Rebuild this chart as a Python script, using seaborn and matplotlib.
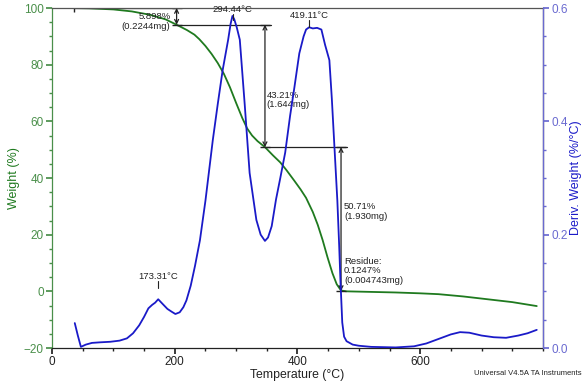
import seaborn as sns
import matplotlib.pyplot as plt
from matplotlib.ticker import MultipleLocator, FixedLocator

# --- TGA data (weight, left axis) ---
temp_weight = [35, 60, 100, 130, 160, 185, 203, 220, 232, 240, 250, 260, 270, 280,
               290, 300, 310, 318, 326, 335, 347, 360, 372, 382, 395, 405, 414, 425,
               433, 441, 449, 457, 464, 471, 480, 520, 560, 600, 630, 670, 710, 750, 790]
weight_pct = [100.0, 99.9, 99.5, 98.8, 97.6, 96.0, 94.1, 92.2, 90.6, 89.0, 86.6, 83.8,
              80.6, 76.8, 72.0, 66.5, 61.2, 57.5, 55.0, 53.0, 50.9, 48.0, 45.5, 42.8,
              39.0, 36.0, 33.0, 28.0, 23.5, 18.1, 12.0, 6.4, 2.5, 0.3, 0.0, -0.2,
              -0.4, -0.7, -1.0, -1.8, -2.8, -3.8, -5.2]

# --- DTG data (derivative weight, right axis) ---
temp_deriv = [37, 42, 47, 55, 65, 78, 95, 110, 122, 132, 142, 150, 157, 163, 168, 173,
              180, 188, 195, 201, 208, 214, 219, 226, 233, 241, 250, 262, 270, 278, 287,
              291, 294, 297, 301, 306, 314, 322, 333, 340, 347, 352, 358, 365, 372, 380,
              388, 395, 403, 410, 414, 419, 425, 432, 439, 445, 452, 456, 460, 465, 468,
              470, 473, 476, 480, 490, 500, 520, 560, 590, 610, 630, 650, 665, 680, 700,
              720, 740, 760, 775, 790]
deriv_weight = [0.044, 0.022, 0.002, 0.006, 0.009, 0.010, 0.011, 0.013, 0.017, 0.026,
                0.040, 0.055, 0.070, 0.076, 0.080, 0.086, 0.078, 0.069, 0.064, 0.060,
                0.063, 0.072, 0.084, 0.110, 0.145, 0.190, 0.260, 0.367, 0.430, 0.490,
                0.544, 0.572, 0.586, 0.580, 0.566, 0.544, 0.430, 0.309, 0.226, 0.200,
                0.189, 0.195, 0.215, 0.262, 0.300, 0.345, 0.410, 0.460, 0.520, 0.550,
                0.562, 0.566, 0.564, 0.565, 0.562, 0.535, 0.508, 0.440, 0.360, 0.260,
                0.180, 0.120, 0.045, 0.020, 0.012, 0.006, 0.004, 0.002, 0.001, 0.003,
                0.008, 0.016, 0.024, 0.028, 0.027, 0.022, 0.019, 0.018, 0.022, 0.026,
                0.032]

# --- step annotations: (temperature, weight before, weight after, label) ---
step_temps = [203, 347, 471]
step_top = [100.0, 94.1, 50.9]
step_bottom = [94.1, 50.9, 0.12]
step_labels = ["5.898%\n(0.2244mg)", "43.21%\n(1.644mg)", "50.71%\n(1.930mg)"]
residue_label = "Residue:\n0.1247%\n(0.004743mg)"

peak_temps = [173.31, 294.44, 419.11]
peak_labels = ["173.31°C", "294.44°C", "419.11°C"]

GREEN = '#1f7a1f'
BLUE = '#1a1ac8'
AXIS_GREEN = '#4a8f4a'
AXIS_BLUE = '#6a6ad0'
INK = '#222222'

sns.set_theme(style="white")
plt.rcParams['font.family'] = ['Liberation Sans', 'DejaVu Sans']

fig = plt.figure(figsize=(5.85, 3.82), dpi=100)
ax = fig.add_axes([0.089, 0.089, 0.839, 0.890])
ax2 = ax.twinx()

sns.lineplot(x=temp_weight, y=weight_pct, ax=ax, color=GREEN, lw=1.3)
sns.lineplot(x=temp_deriv, y=deriv_weight, ax=ax2, color=BLUE, lw=1.3)

ax.set_xlim(0, 800)
ax.set_ylim(-20, 100)
ax2.set_ylim(0, 0.6)

# ticks
ax.xaxis.set_major_locator(FixedLocator([0, 200, 400, 600]))
ax.xaxis.set_minor_locator(MultipleLocator(50))
ax.yaxis.set_major_locator(MultipleLocator(20))
ax.yaxis.set_minor_locator(MultipleLocator(5))
ax2.yaxis.set_major_locator(MultipleLocator(0.2))
ax2.yaxis.set_minor_locator(MultipleLocator(0.05))
ax2.set_yticklabels([f"{v:.1f}" for v in ax2.get_yticks()])

ax.tick_params(axis='x', which='both', direction='out', bottom=True, colors=INK,
               labelsize=8.5, pad=2)
ax.tick_params(axis='x', which='major', length=4)
ax.tick_params(axis='x', which='minor', length=2.5)
ax.tick_params(axis='y', which='both', direction='out', left=True, colors=AXIS_GREEN,
               labelsize=8.5, pad=2)
ax.tick_params(axis='y', which='major', length=4)
ax.tick_params(axis='y', which='minor', length=2.5)
ax2.tick_params(axis='y', which='both', direction='out', right=True, colors=AXIS_BLUE,
                labelsize=8.5, pad=2)
ax2.tick_params(axis='y', which='major', length=4)
ax2.tick_params(axis='y', which='minor', length=2.5)

for a in (ax, ax2):
    for s in a.spines.values():
        s.set_linewidth(0.9)
ax.spines['left'].set_color(AXIS_GREEN)
ax.spines['bottom'].set_color(INK)
ax.spines['top'].set_color('#555555')
ax2.spines['right'].set_color(AXIS_BLUE)
ax2.spines['left'].set_visible(False)
ax2.spines['bottom'].set_visible(False)
ax2.spines['top'].set_visible(False)

ax.set_xlabel("Temperature (°C)", fontsize=8.8, color=INK, labelpad=0.5)
ax.set_ylabel("Weight (%)", fontsize=9, color=GREEN, labelpad=3)
ax2.set_ylabel("Deriv. Weight (%/°C)", fontsize=9, color=BLUE, labelpad=2)

# --- step annotations ---
ax.plot([temp_weight[0], step_temps[0]], [100, 100], color=INK, lw=0.9)
ax.plot([temp_weight[0]], [100], marker='|', ms=6, color=INK, mew=1)
for i, (x, y0, y1) in enumerate(zip(step_temps, step_top, step_bottom)):
    ax.annotate('', xy=(x, y1), xytext=(x, y0),
                arrowprops=dict(arrowstyle='<->', color=INK, lw=0.9,
                                shrinkA=0, shrinkB=0, mutation_scale=7))
    ax.plot([x], [y0], marker='_', ms=7, color=INK, mew=1)
    ax.plot([x], [y1], marker='_', ms=7, color=INK, mew=1)
    if i + 1 < len(step_temps):
        ax.plot([x, step_temps[i + 1] + 10], [y1, y1], color=INK, lw=0.9)

ax.text(step_temps[0] - 10, 95.3, step_labels[0], ha='right', va='center',
        fontsize=6.8, color=INK, linespacing=1.1)
ax.text(step_temps[1] + 3, 67.5, step_labels[1], ha='left', va='center',
        fontsize=6.8, color=INK, linespacing=1.1)
ax.text(step_temps[2] + 5, 28.3, step_labels[2], ha='left', va='center',
        fontsize=6.8, color=INK, linespacing=1.1)
ax.text(step_temps[2] + 5, 7.2, residue_label, ha='left', va='center',
        fontsize=6.8, color=INK, linespacing=1.1)

# --- peak labels on the derivative curve ---
peak_text_y = [0.118, 0.590, 0.578]
for t, lab, ty in zip(peak_temps, peak_labels, peak_text_y):
    ax2.text(t, ty, lab, ha='center', va='bottom', fontsize=6.8, color=INK)
    ax2.plot([t, t], [ty - 0.012, ty], color=INK, lw=0.8)

fig.text(0.995, 0.012, "Universal V4.5A TA Instruments", ha='right', va='bottom',
         fontsize=5.5, color=INK)

fig.savefig("out.png", dpi=100)
